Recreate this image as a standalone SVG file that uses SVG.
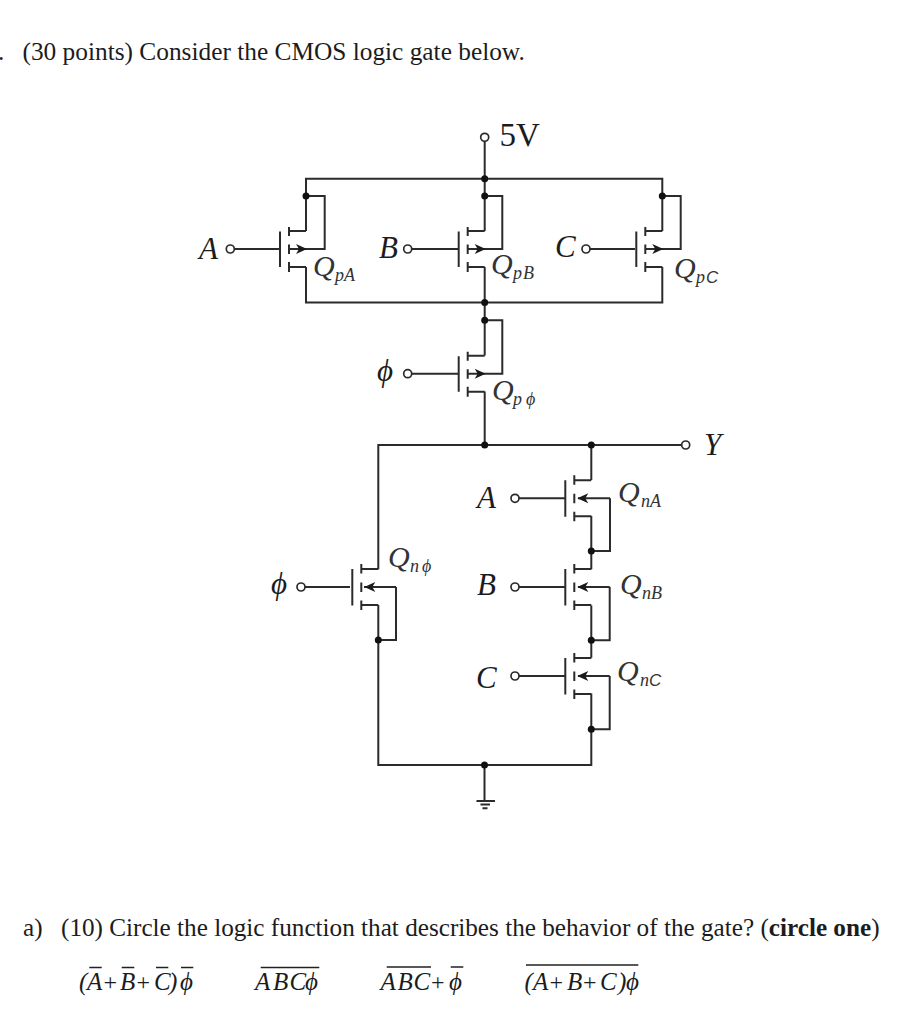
<svg xmlns="http://www.w3.org/2000/svg" xmlns:xlink="http://www.w3.org/1999/xlink" width="914" height="1024" viewBox="0 0 914 1024">
<style>
.w{fill:none;stroke:#2b2b2b;stroke-width:2}
.d{fill:#111}
.t{fill:none;stroke:#2b2b2b;stroke-width:2}
.o{fill:#fff;stroke:#2b2b2b;stroke-width:1.700}
.a{fill:#1a1a1a}
text{font-family:"Liberation Serif","Times New Roman",serif;fill:#1c1c1c}
.x{font-size:25.200px}
.i{font-style:italic;font-size:31px}
.q{font-style:italic;font-size:30px;fill:#333}
.s{font-size:18px}
.ss{font-family:"Liberation Sans",Arial,sans-serif;font-size:17px}
.f{font-style:italic;font-size:25px}
.p{font-style:normal;font-size:24px}
.b{stroke:#222;stroke-width:1.500;fill:none}
</style>
<defs>
<g id="pmos">
<path class="t" d="M-26 -17.500V18M-17 -22V-13M-17 -18H0M-17 -4.500V5M-17 13V23M-17 18H0"/>
<path class="a" d="M1 0L-10 -5L-7 0L-10 5Z"/>
</g>
<g id="nmos">
<path class="t" d="M-26 -18V18.500M-17 -23V-13.500M-17 -18H0M-17 -4.500V5M-17 13.500V23M-17 18H0"/>
<path class="a" d="M-14 0L-3 -5L-6 0L-3 5Z"/>
</g>
</defs>
<g id="title"><text class="x" x="-2" y="60">.</text><text class="x" x="22.500" y="60" style="font-size:25.350px">(30 points) Consider the CMOS logic gate below.</text></g>
<g id="connectors">
<path class="w" d="M484.700 141.500V178.700M306 196V178.700H662.300V196M306 196V231M306 196H324.700V249H289M306 267V302.500H662.300V267M484.700 178.700V231M484.700 196H502.300V249H467M484.700 267V320.300M662.300 196V231M662.300 196H680.700V249H645M484.700 320.300V355.500M484.700 320.300H502.300V373.700H467M484.700 391.500V445M378.300 569.300V445H681.500M591.300 445V480M591.300 516V569.300M610 498.300H578M610 498.300V551H591.300M591.300 605.500V657.700M609.700 587H578M609.700 587V640.300H591.300M609.700 676H578M609.700 676V729.300H591.300M591.300 693.500V765H378.300V605M396 587H364M396 587V640H378.300M484.500 765V801"/>
<path class="w" d="M234.300 249H280M411.700 249H458M590 249H635M411.700 373.700H458M519 498.300H565M519 587H565M519 676H565M305 587H350"/>
<path class="w" d="M476.500 801H495M480.500 804.500H490M482.500 808.300H487.500"/>
<g class="d"><circle cx="306" cy="196" r="3.500"/><circle cx="484.700" cy="178.700" r="3.500"/><circle cx="484.700" cy="196" r="3.500"/><circle cx="662.300" cy="196" r="3.500"/><circle cx="484.700" cy="302.500" r="3.500"/><circle cx="484.700" cy="320.300" r="3.500"/><circle cx="484.700" cy="445" r="3.500"/><circle cx="591.300" cy="445" r="3.500"/><circle cx="591.300" cy="551" r="3.500"/><circle cx="591.300" cy="640.300" r="3.500"/><circle cx="591.300" cy="729.300" r="3.500"/><circle cx="378.300" cy="640" r="3.500"/><circle cx="484.500" cy="765" r="3.500"/></g>
</g>
<g id="QpA"><use xlink:href="#pmos" x="306" y="249"/><circle class="o" cx="230.300" cy="249" r="4"/><text class="i" x="199" y="259">A</text><text class="q" x="313" y="276">Q<tspan class="s" x="335" dy="5">pA</tspan></text></g>
<g id="QpB"><use xlink:href="#pmos" x="484.700" y="249"/><circle class="o" cx="407.700" cy="249" r="4"/><text class="i" x="379" y="258">B</text><text class="q" x="491" y="274">Q<tspan class="s" x="513" dy="5" letter-spacing="1">pB</tspan></text></g>
<g id="QpC"><use xlink:href="#pmos" x="662.300" y="249"/><circle class="o" cx="586" cy="249" r="4"/><text class="i" x="555" y="257">C</text><text class="q" x="674" y="278">Q<tspan class="s" x="696" dy="5">p</tspan><tspan class="ss" dx="1">C</tspan></text></g>
<g id="Qpphi"><use xlink:href="#pmos" x="484.700" y="373.700"/><circle class="o" cx="407.700" cy="373.700" r="4"/><text class="i" x="377" y="381">ϕ</text><text class="q" x="492" y="400">Q<tspan class="s" x="513" dy="5">p</tspan><tspan class="s" x="526">ϕ</tspan></text></g>
<g id="Qnphi"><use xlink:href="#nmos" x="378.300" y="587"/><circle class="o" cx="301" cy="587" r="4"/><text class="i" x="271" y="594">ϕ</text><text class="q" x="388" y="567">Q<tspan class="s" x="410" dy="5">n</tspan><tspan class="s" x="422">ϕ</tspan></text></g>
<g id="QnA"><use xlink:href="#nmos" x="591.300" y="498.300"/><circle class="o" cx="515" cy="498.300" r="4"/><text class="i" x="477" y="508">A</text><text class="q" x="618" y="502">Q<tspan class="s" x="641" dy="5">nA</tspan></text></g>
<g id="QnB"><use xlink:href="#nmos" x="591.300" y="587"/><circle class="o" cx="515" cy="587" r="4"/><text class="i" x="477" y="595">B</text><text class="q" x="620" y="594">Q<tspan class="s" x="642" dy="5">nB</tspan></text></g>
<g id="QnC"><use xlink:href="#nmos" x="591.300" y="676"/><circle class="o" cx="515" cy="676" r="4"/><text class="i" x="476" y="688">C</text><text class="q" x="617" y="681">Q<tspan class="s" x="640" dy="5">n</tspan><tspan class="ss">C</tspan></text></g>
<g id="vdd"><circle class="o" cx="484.700" cy="137.300" r="4"/><text x="499.500" y="146" style="font-size:33px">5V</text></g>
<g id="out"><circle class="o" cx="685.700" cy="445" r="4"/><text class="i" x="704" y="455">Y</text></g>
<g id="question"><text class="x" x="23" y="936">a)</text><text class="x" x="61" y="936">(10) Circle the logic function that describes the behavior of the gate? (<tspan font-weight="bold">circle one</tspan>)</text></g>
<g id="answers">
<text class="f" y="990"><tspan x="79 87">(A</tspan><tspan class="p" x="103.500">+</tspan><tspan x="120">B</tspan><tspan class="p" x="136.500">+</tspan><tspan x="154 169 180">C)ϕ</tspan></text>
<text class="f" x="255 273 289.500 305" y="990">ABCϕ</text>
<text class="f" y="990"><tspan x="380.500 397.500 413.500">ABC</tspan><tspan class="p" x="431">+</tspan><tspan x="449">ϕ</tspan></text>
<text class="f" y="990"><tspan x="524.500 533">(A</tspan><tspan class="p" x="549.500">+</tspan><tspan x="567">B</tspan><tspan class="p" x="583">+</tspan><tspan x="600 618 626">C)ϕ</tspan></text>
<path class="b" d="M89.300 967.500H101.700M121.700 967.500H134.300M156 967.500H168.300M181 967.500H193.300M260.700 967.500H319.300M386.700 967H431M450.700 967H463.300M526 965H638.300"/>
</g>
</svg>
